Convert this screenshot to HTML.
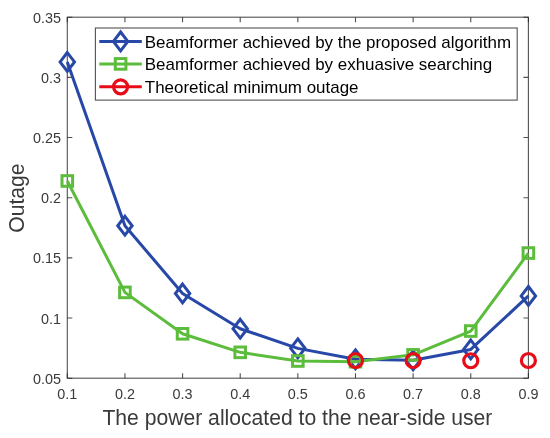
<!DOCTYPE html>
<html><head><meta charset="utf-8"><style>
html,body{margin:0;padding:0;background:#fff;}
svg{display:block;}
text{font-family:"Liberation Sans",Arial,Helvetica,sans-serif;}
.tl{font-size:14.4px;fill:#3a3a3a;}
.lab{font-size:22.4px;fill:#3a3a3a;}
.lg{font-size:16.95px;fill:#000;}
</style></head><body>
<svg width="550" height="438" viewBox="0 0 550 438">
<rect x="67.3" y="17.2" width="461.10" height="361.00" fill="none" stroke="#262626" stroke-width="1.1" stroke-opacity="0.8"/>
<path d="M67.30 378.2v-5.0M67.30 17.2v5.0M124.94 378.2v-5.0M124.94 17.2v5.0M182.57 378.2v-5.0M182.57 17.2v5.0M240.21 378.2v-5.0M240.21 17.2v5.0M297.85 378.2v-5.0M297.85 17.2v5.0M355.49 378.2v-5.0M355.49 17.2v5.0M413.12 378.2v-5.0M413.12 17.2v5.0M470.76 378.2v-5.0M470.76 17.2v5.0M528.40 378.2v-5.0M528.40 17.2v5.0M67.3 378.20h5.0M528.4 378.20h-5.0M67.3 318.03h5.0M528.4 318.03h-5.0M67.3 257.87h5.0M528.4 257.87h-5.0M67.3 197.70h5.0M528.4 197.70h-5.0M67.3 137.53h5.0M528.4 137.53h-5.0M67.3 77.37h5.0M528.4 77.37h-5.0M67.3 17.20h5.0M528.4 17.20h-5.0" stroke="#262626" stroke-width="1.1" stroke-opacity="0.8" fill="none"/>
<text x="67.30" y="398.5" text-anchor="middle" class="tl">0.1</text>
<text x="124.94" y="398.5" text-anchor="middle" class="tl">0.2</text>
<text x="182.57" y="398.5" text-anchor="middle" class="tl">0.3</text>
<text x="240.21" y="398.5" text-anchor="middle" class="tl">0.4</text>
<text x="297.85" y="398.5" text-anchor="middle" class="tl">0.5</text>
<text x="355.49" y="398.5" text-anchor="middle" class="tl">0.6</text>
<text x="413.12" y="398.5" text-anchor="middle" class="tl">0.7</text>
<text x="470.76" y="398.5" text-anchor="middle" class="tl">0.8</text>
<text x="528.40" y="398.5" text-anchor="middle" class="tl">0.9</text>
<text x="61.1" y="383.80" text-anchor="end" class="tl">0.05</text>
<text x="61.1" y="323.63" text-anchor="end" class="tl">0.1</text>
<text x="61.1" y="263.47" text-anchor="end" class="tl">0.15</text>
<text x="61.1" y="203.30" text-anchor="end" class="tl">0.2</text>
<text x="61.1" y="143.13" text-anchor="end" class="tl">0.25</text>
<text x="61.1" y="82.97" text-anchor="end" class="tl">0.3</text>
<text x="61.1" y="22.80" text-anchor="end" class="tl">0.35</text>
<text transform="translate(297.4 424.7) scale(0.944 1)" text-anchor="middle" class="lab">The power allocated to the near-side user</text>
<text transform="translate(24.3 198.1) rotate(-90) scale(0.944 1)" text-anchor="middle" class="lab">Outage</text>
<polyline points="67.30,61.96 124.94,225.74 182.57,293.49 240.21,328.74 297.85,348.36 355.49,359.31 413.12,360.27 470.76,349.44 528.40,295.89" fill="none" stroke="#2848a8" stroke-width="3.0" stroke-linejoin="round"/>
<path d="M67.30 52.56L74.50 61.96L67.30 71.36L60.10 61.96Z" fill="none" stroke="#2848a8" stroke-width="3.0" stroke-miterlimit="10"/>
<path d="M124.94 216.34L132.14 225.74L124.94 235.14L117.74 225.74Z" fill="none" stroke="#2848a8" stroke-width="3.0" stroke-miterlimit="10"/>
<path d="M182.57 284.09L189.77 293.49L182.57 302.89L175.38 293.49Z" fill="none" stroke="#2848a8" stroke-width="3.0" stroke-miterlimit="10"/>
<path d="M240.21 319.34L247.41 328.74L240.21 338.14L233.01 328.74Z" fill="none" stroke="#2848a8" stroke-width="3.0" stroke-miterlimit="10"/>
<path d="M297.85 338.96L305.05 348.36L297.85 357.76L290.65 348.36Z" fill="none" stroke="#2848a8" stroke-width="3.0" stroke-miterlimit="10"/>
<path d="M355.49 349.91L362.69 359.31L355.49 368.71L348.29 359.31Z" fill="none" stroke="#2848a8" stroke-width="3.0" stroke-miterlimit="10"/>
<path d="M413.12 350.87L420.32 360.27L413.12 369.67L405.92 360.27Z" fill="none" stroke="#2848a8" stroke-width="3.0" stroke-miterlimit="10"/>
<path d="M470.76 340.04L477.96 349.44L470.76 358.84L463.56 349.44Z" fill="none" stroke="#2848a8" stroke-width="3.0" stroke-miterlimit="10"/>
<path d="M528.40 286.49L535.60 295.89L528.40 305.29L521.20 295.89Z" fill="none" stroke="#2848a8" stroke-width="3.0" stroke-miterlimit="10"/>
<polyline points="67.30,180.97 124.94,292.40 182.57,333.80 240.21,352.33 297.85,360.99 355.49,361.71 413.12,354.86 470.76,331.03 528.40,253.05" fill="none" stroke="#5cbc3c" stroke-width="3.0" stroke-linejoin="round"/>
<rect x="62.00" y="175.67" width="10.60" height="10.60" fill="none" stroke="#5cbc3c" stroke-width="3.0"/>
<rect x="119.64" y="287.10" width="10.60" height="10.60" fill="none" stroke="#5cbc3c" stroke-width="3.0"/>
<rect x="177.27" y="328.50" width="10.60" height="10.60" fill="none" stroke="#5cbc3c" stroke-width="3.0"/>
<rect x="234.91" y="347.03" width="10.60" height="10.60" fill="none" stroke="#5cbc3c" stroke-width="3.0"/>
<rect x="292.55" y="355.69" width="10.60" height="10.60" fill="none" stroke="#5cbc3c" stroke-width="3.0"/>
<rect x="350.19" y="356.41" width="10.60" height="10.60" fill="none" stroke="#5cbc3c" stroke-width="3.0"/>
<rect x="407.82" y="349.56" width="10.60" height="10.60" fill="none" stroke="#5cbc3c" stroke-width="3.0"/>
<rect x="465.46" y="325.73" width="10.60" height="10.60" fill="none" stroke="#5cbc3c" stroke-width="3.0"/>
<rect x="523.10" y="247.75" width="10.60" height="10.60" fill="none" stroke="#5cbc3c" stroke-width="3.0"/>
<circle cx="355.49" cy="360.51" r="7.0" fill="none" stroke="#e80c18" stroke-width="3.2"/>
<circle cx="413.12" cy="360.51" r="7.0" fill="none" stroke="#e80c18" stroke-width="3.2"/>
<circle cx="470.76" cy="360.75" r="7.0" fill="none" stroke="#e80c18" stroke-width="3.2"/>
<circle cx="528.40" cy="360.51" r="7.0" fill="none" stroke="#e80c18" stroke-width="3.2"/>
<rect x="95.4" y="28" width="421.8" height="72.1" fill="#fff" stroke="#262626" stroke-width="1.1" stroke-opacity="0.8"/>
<path d="M99.3 41.4H141.8" stroke="#2848a8" stroke-width="3.0"/>
<path d="M120.60 32.00L127.80 41.40L120.60 50.80L113.40 41.40Z" fill="none" stroke="#2848a8" stroke-width="3.0" stroke-miterlimit="10"/>
<text x="144.8" y="47.80" class="lg">Beamformer achieved by the proposed algorithm</text>
<path d="M99.3 63.9H141.8" stroke="#5cbc3c" stroke-width="3.0"/>
<rect x="115.30" y="58.60" width="10.60" height="10.60" fill="none" stroke="#5cbc3c" stroke-width="3.0"/>
<text x="144.8" y="70.30" class="lg">Beamformer achieved by exhuasive searching</text>
<path d="M99.3 86.8H141.8" stroke="#e80c18" stroke-width="3.0"/>
<circle cx="120.60" cy="86.80" r="7.0" fill="none" stroke="#e80c18" stroke-width="3.2"/>
<text x="144.8" y="93.20" class="lg">Theoretical minimum outage</text>
</svg>
</body></html>
